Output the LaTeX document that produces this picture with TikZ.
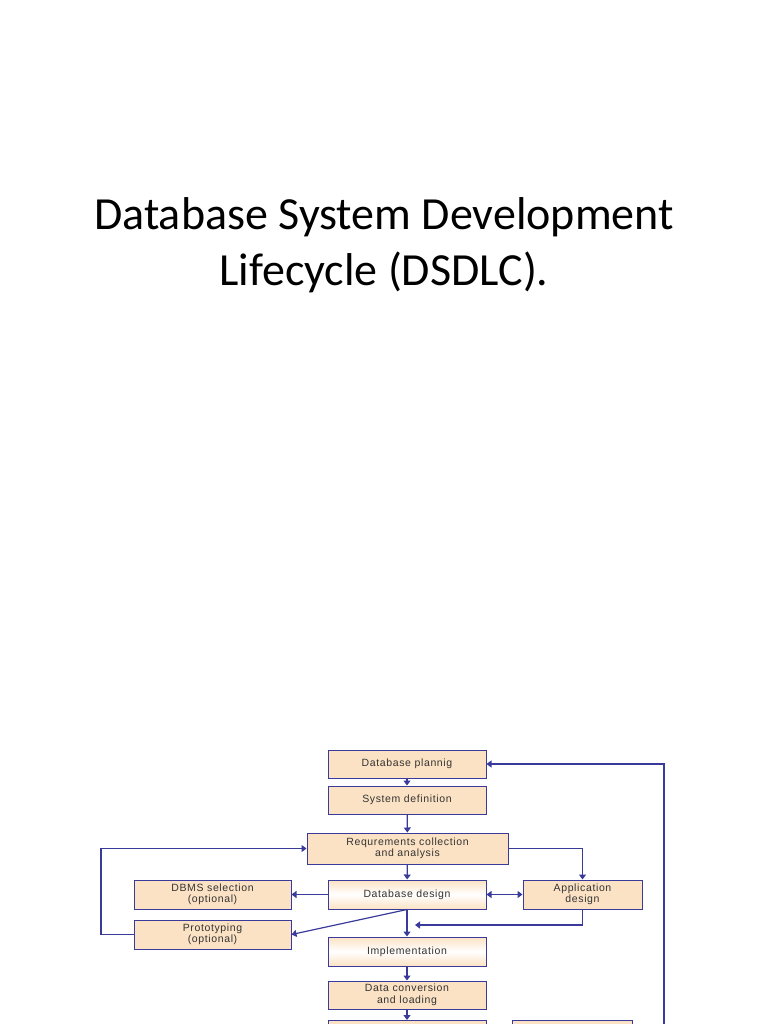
\documentclass[tikz,border=0pt]{standalone}
\usepackage{fontspec}
\setmainfont{Carlito}
\newfontfamily\boxfont[LetterSpace=6]{Liberation Sans}
\usetikzlibrary{arrows.meta}
\definecolor{peach}{HTML}{FCE2C4}
\definecolor{navy}{HTML}{3A3A9A}
\tikzset{
  stagebox/.style={draw=navy,line width=1pt,fill=peach,font=\boxfont\fontsize{10.5}{11.5}\selectfont,align=center,text=black!80,inner sep=0pt},
  gradbox/.style={stagebox,fill=none,top color=peach,bottom color=peach,middle color=white},
  conn/.style={draw=navy,line width=1.2pt,-{Triangle[length=5pt,width=7pt]}},
}
\begin{document}
\begin{tikzpicture}[x=1pt,y=-1pt]
\useasboundingbox (0,0) rectangle (768,1024);
\clip (0,0) rectangle (768,1024);
\node[font=\fontsize{46}{56}\selectfont,align=center] (title) at (384,245) {Database System Development\\Lifecycle (DSDLC).};
\node[stagebox,minimum width=158pt,minimum height=28pt] (plan) at (407,764) {Database plannig};
\node[stagebox,minimum width=158pt,minimum height=28pt] (sysdef) at (407,800) {System definition};
\node[stagebox,minimum width=201pt,minimum height=31pt] (req) at (407.5,848.5) {Requrements collection\\and analysis};
\node[stagebox,minimum width=157pt,minimum height=29pt] (dbms) at (212.5,894.5) {DBMS selection\\(optional)};
\node[gradbox,minimum width=158pt,minimum height=29pt] (dbd) at (407,894.5) {Database design};
\node[stagebox,minimum width=119pt,minimum height=29pt] (app) at (582.5,894.5) {Application\\design};
\node[stagebox,minimum width=157pt,minimum height=29pt] (proto) at (212.5,934.5) {Prototyping\\(optional)};
\node[gradbox,minimum width=158pt,minimum height=29pt] (impl) at (407,951.5) {Implementation};
\node[stagebox,minimum width=158pt,minimum height=28pt] (conv) at (407,995) {Data conversion\\and loading};
\node[stagebox,minimum width=158pt,minimum height=30pt,anchor=north] (test) at (407,1020) {};
\node[stagebox,minimum width=120pt,minimum height=30pt,anchor=north] (maint) at (572,1020) {};
\coordinate (rb) at (664,1030);
\coordinate (lb) at (101,934);
\coordinate (jn) at (415,925);
\path[conn] (plan) -- (sysdef);
\path[conn] (sysdef) -- (req);
\path[conn] (req) -- (dbd);
\path[conn] (dbd) -- (dbms);
\path[conn,{Triangle[length=5pt,width=7pt]}-{Triangle[length=5pt,width=7pt]}] (dbd) -- (app);
\path[conn] (dbd.south) -- (impl);
\path[conn] (dbd.south) -- (proto.east);
\path[conn] (req.east) -| (app.north);
\path[conn] (app.south) |- (jn);
\path[conn] (proto.west) -| (lb) |- (req.west);
\path[conn] (impl) -- (conv);
\path[conn] (conv) -- (test);
\path[conn] (rb) |- (plan.east);
\end{tikzpicture}
\end{document}
